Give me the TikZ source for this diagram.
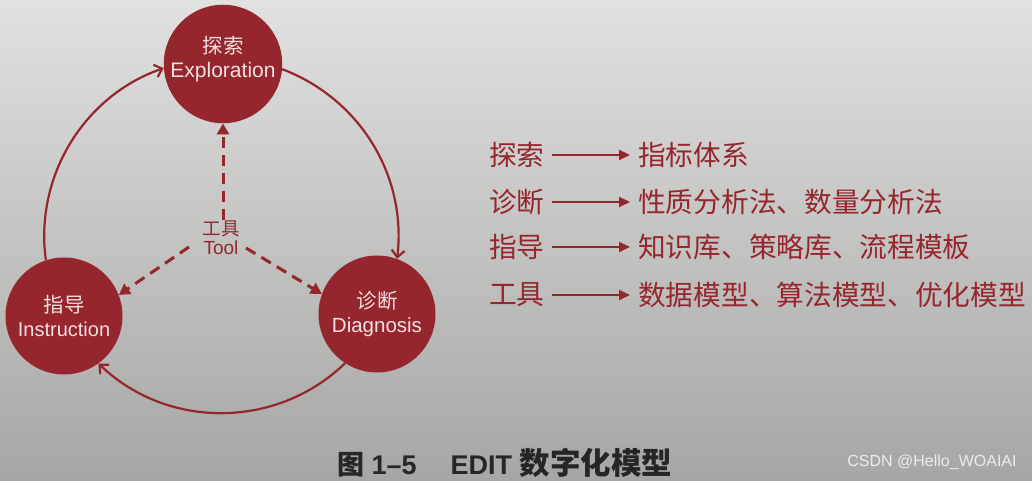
\documentclass[tikz,border=0pt]{standalone}
\usepackage{fontspec}
\setmainfont{Liberation Sans}
\newfontfamily\cjk{Noto Sans CJK SC}
\usetikzlibrary{arrows.meta}
\definecolor{wine}{RGB}{150,38,45}
\definecolor{pinkw}{RGB}{242,224,224}
\definecolor{bgtop}{RGB}{224,225,224}
\definecolor{bgmid}{RGB}{214,214,213}
\definecolor{bgbot}{RGB}{166,166,164}
\definecolor{captc}{RGB}{38,38,38}
\definecolor{wmark}{RGB}{236,236,236}
\begin{document}
\begin{tikzpicture}[x=1pt,y=1pt,
  stage/.style={circle, fill=wine, minimum size=117pt, inner sep=0pt, text=pinkw, align=center},
  cyc/.style={draw=wine, line width=2.2pt, -{Straight Barb[length=7pt,width=13pt,line width=2.2pt]}},
  tooldash/.style={draw=wine, line width=3pt, dash pattern=on 11pt off 7pt, -{Triangle[length=11pt,width=12pt]}},
  maparrow/.style={draw=wine, line width=2pt, -{Triangle[length=11pt,width=10pt]}},
  lbl/.style={anchor=west, text=wine, font=\cjk\fontsize{27.7}{32}\selectfont, inner sep=0pt},
]
\shade[top color=bgtop, middle color=bgmid, bottom color=bgbot] (0,0) rectangle (1032,481);
\useasboundingbox (0,0) rectangle (1032,481);

% stages
\node[stage] (E) at (223,417) {{\cjk\fontsize{20.5}{22}\selectfont 探索}\\[6pt]{\fontsize{21}{23}\selectfont Exploration}\\[2pt]};
\node[stage] (I) at (64,165) {{\cjk\fontsize{20.5}{22}\selectfont 指导}\\[6pt]{\fontsize{20}{23}\selectfont Instruction}};
\node[stage] (D) at (377,167) {{\cjk\fontsize{20.5}{22}\selectfont 诊断}\\[7pt]{\fontsize{20.5}{23}\selectfont Diagnosis}};

% cycle
\draw[cyc] (E.-5.7) to[bend left=38, looseness=0.96] (D.70.4);
\draw[cyc] (D.237.6) to[bend left=44, looseness=0.99] (I.-54);
\draw[cyc] (I.108) to[bend left=39.4, looseness=0.96] (E.184.3);

% tool
\node[text=wine, align=center, inner sep=1pt] (T) at (221,243)
  {{\cjk\fontsize{18.5}{20}\selectfont 工具}\\[3pt]{\fontsize{19}{21}\selectfont Tool}};
\coordinate (tl) at (189,234);
\coordinate (tr) at (246,233);
\draw[tooldash] (E.south |- T.north) -- (E.south);
\draw[tooldash] (tl) -- (I.21);
\draw[tooldash] (tr) -- (D.160);

% mapping list
\node[lbl] (a1) at (489,326) {探索};
\node[lbl] (b1) at (638,326) {指标体系};
\node[lbl] (a2) at (489,279) {诊断};
\node[lbl] (b2) at (638,279) {性质分析法、数量分析法};
\node[lbl] (a3) at (489,234) {指导};
\node[lbl] (b3) at (638,234) {知识库、策略库、流程模板};
\node[lbl] (a4) at (489,186) {工具};
\node[lbl] (b4) at (638,186) {数据模型、算法模型、优化模型};
\foreach \i in {1,2,3,4}
  \draw[maparrow] ([xshift=7pt]a\i.east) -- ([xshift=-8pt]b\i.west);

% caption
\node[anchor=west, text=captc, inner sep=0pt] (cap) at (337,18)
  {\fontsize{27}{30}\selectfont\bfseries{\cjk 图} 1–5\hspace{34pt}EDIT {\cjk\fontsize{30.5}{32}\selectfont 数字化模型}};
\node[text=wmark, inner sep=0pt] (wm) at (932,19)
  {\fontsize{16}{18}\selectfont CSDN @Hello\_WOAIAI};
\end{tikzpicture}
\end{document}
